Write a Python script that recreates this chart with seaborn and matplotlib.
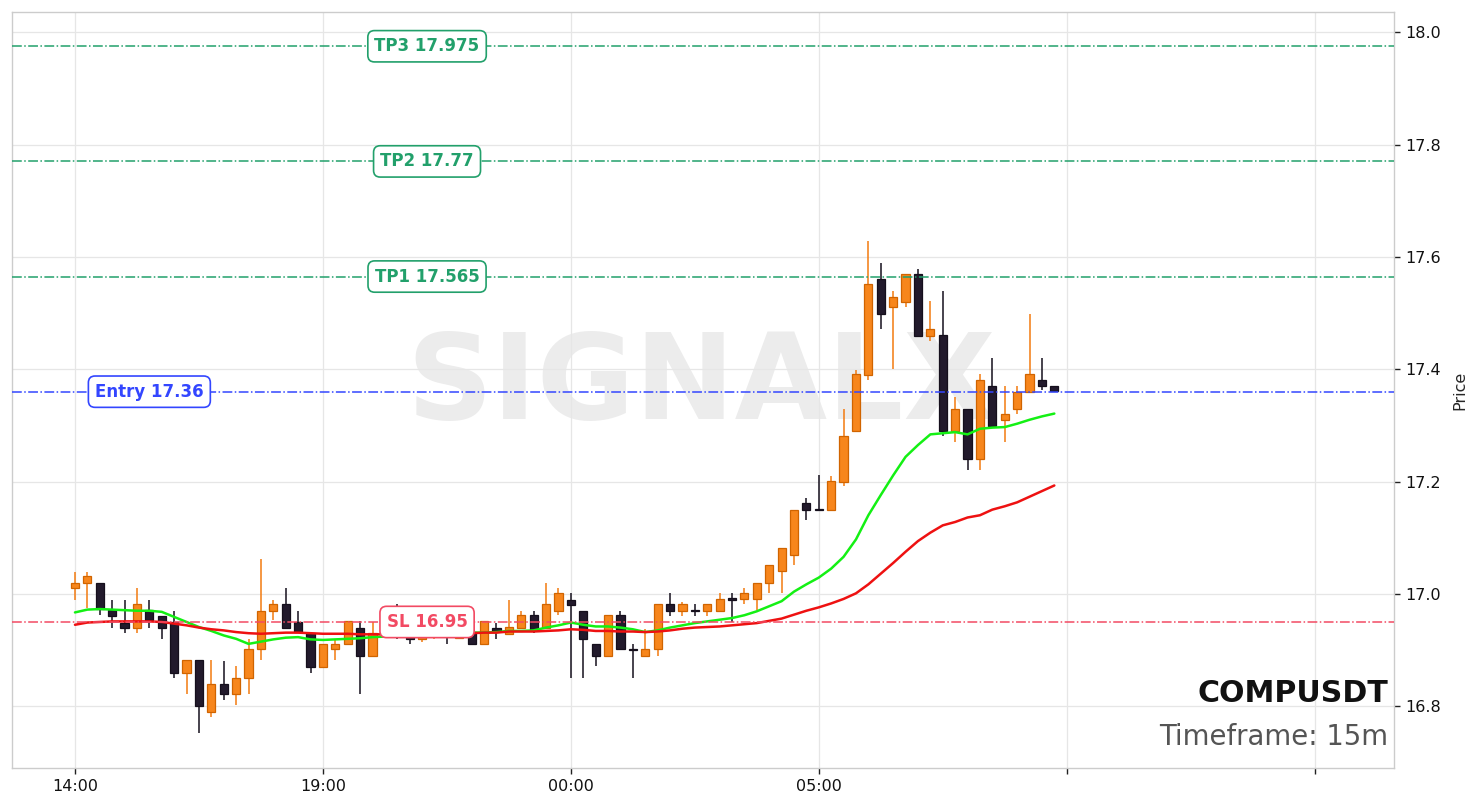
import numpy as np
import pandas as pd
import matplotlib
matplotlib.use("Agg")
import matplotlib.pyplot as plt
import seaborn as sns

# ---------------- data ----------------
opens = [17.011, 17.020, 17.020, 16.971, 16.948, 16.940, 16.971, 16.961, 16.950, 16.860,
         16.882, 16.790, 16.840, 16.821, 16.851, 16.901, 16.970, 16.982, 16.950, 16.931,
         16.870, 16.901, 16.910, 16.940, 16.890, 16.930, 16.935, 16.925, 16.920, 16.925,
         16.930, 16.921, 16.933, 16.910, 16.940, 16.929, 16.940, 16.962, 16.940, 16.970,
         16.990, 16.970, 16.910, 16.890, 16.962, 16.902, 16.890, 16.901, 16.982, 16.970,
         16.972, 16.970, 16.970, 16.992, 16.991, 16.991, 17.020, 17.040, 17.070, 17.161,
         17.151, 17.150, 17.199, 17.290, 17.389, 17.560, 17.510, 17.520, 17.570, 17.459,
         17.461, 17.290, 17.330, 17.240, 17.371, 17.310, 17.330, 17.360, 17.380, 17.371]
highs = [17.039, 17.039, 17.020, 16.990, 16.990, 17.011, 16.990, 16.961, 16.970, 16.882,
         16.882, 16.882, 16.881, 16.871, 16.920, 17.062, 16.990, 17.011, 16.970, 16.931,
         16.910, 16.920, 16.951, 16.951, 16.950, 16.940, 16.982, 16.930, 16.930, 16.935,
         16.935, 16.940, 16.965, 16.951, 16.949, 16.990, 16.970, 16.970, 17.020, 17.011,
         17.001, 16.970, 16.910, 16.962, 16.970, 16.910, 16.938, 16.982, 17.001, 16.985,
         16.982, 16.982, 17.001, 17.001, 17.011, 17.020, 17.051, 17.081, 17.150, 17.170,
         17.211, 17.210, 17.329, 17.399, 17.628, 17.589, 17.539, 17.570, 17.579, 17.521,
         17.539, 17.350, 17.330, 17.391, 17.420, 17.370, 17.370, 17.499, 17.420, 17.371]
lows = [16.990, 16.975, 16.962, 16.940, 16.931, 16.931, 16.940, 16.920, 16.851, 16.821,
        16.752, 16.781, 16.811, 16.802, 16.821, 16.882, 16.953, 16.940, 16.932, 16.860,
        16.870, 16.882, 16.910, 16.821, 16.890, 16.925, 16.920, 16.910, 16.915, 16.920,
        16.910, 16.920, 16.910, 16.910, 16.920, 16.929, 16.940, 16.931, 16.940, 16.962,
        16.851, 16.851, 16.871, 16.890, 16.901, 16.851, 16.890, 16.890, 16.961, 16.961,
        16.961, 16.961, 16.970, 16.950, 16.982, 16.971, 17.001, 17.001, 17.051, 17.131,
        17.150, 17.150, 17.192, 17.290, 17.380, 17.471, 17.400, 17.510, 17.459, 17.450,
        17.281, 17.271, 17.220, 17.220, 17.299, 17.270, 17.320, 17.360, 17.363, 17.361]
closes = [17.020, 17.031, 16.973, 16.961, 16.940, 16.982, 16.953, 16.940, 16.860, 16.882,
          16.801, 16.840, 16.821, 16.851, 16.901, 16.970, 16.982, 16.940, 16.932, 16.870,
          16.910, 16.910, 16.951, 16.890, 16.931, 16.935, 16.925, 16.920, 16.925, 16.930,
          16.925, 16.933, 16.910, 16.951, 16.934, 16.941, 16.962, 16.935, 16.982, 17.001,
          16.981, 16.920, 16.890, 16.962, 16.901, 16.900, 16.901, 16.982, 16.970, 16.982,
          16.970, 16.982, 16.991, 16.990, 17.001, 17.020, 17.051, 17.081, 17.150, 17.150,
          17.150, 17.201, 17.281, 17.391, 17.551, 17.499, 17.529, 17.570, 17.459, 17.471,
          17.290, 17.330, 17.240, 17.380, 17.299, 17.320, 17.360, 17.391, 17.370, 17.361]

ema_fast = [16.967, 16.972, 16.973, 16.972, 16.971, 16.970, 16.970, 16.968, 16.959, 16.950,
            16.941, 16.934, 16.926, 16.920, 16.911, 16.915, 16.919, 16.922, 16.923, 16.919,
            16.918, 16.919, 16.920, 16.921, 16.923, 16.924, 16.926, 16.926, 16.927, 16.928,
            16.929, 16.930, 16.931, 16.931, 16.932, 16.934, 16.934, 16.935, 16.940, 16.944,
            16.949, 16.945, 16.942, 16.942, 16.940, 16.937, 16.932, 16.935, 16.940, 16.944,
            16.948, 16.951, 16.954, 16.957, 16.962, 16.969, 16.978, 16.987, 17.004, 17.017,
            17.029, 17.045, 17.066, 17.097, 17.140, 17.176, 17.211, 17.244, 17.265, 17.284,
            17.286, 17.288, 17.284, 17.294, 17.296, 17.297, 17.303, 17.310, 17.316, 17.321]
ema_slow = [16.945, 16.949, 16.950, 16.951, 16.951, 16.951, 16.951, 16.950, 16.947, 16.944,
            16.940, 16.937, 16.935, 16.932, 16.930, 16.929, 16.930, 16.931, 16.931, 16.930,
            16.929, 16.929, 16.929, 16.928, 16.928, 16.928, 16.929, 16.929, 16.929, 16.930,
            16.930, 16.930, 16.930, 16.931, 16.931, 16.933, 16.933, 16.933, 16.934, 16.935,
            16.937, 16.936, 16.934, 16.934, 16.933, 16.933, 16.932, 16.933, 16.935, 16.938,
            16.940, 16.941, 16.942, 16.944, 16.946, 16.948, 16.952, 16.956, 16.963, 16.970,
            16.976, 16.983, 16.991, 17.001, 17.017, 17.036, 17.055, 17.075, 17.094, 17.109,
            17.122, 17.128, 17.136, 17.140, 17.150, 17.156, 17.163, 17.173, 17.183, 17.193]

xtick_pos = [0, 20, 40, 60, 80, 100]
xtick_labels = ["14:00", "19:00", "00:00", "05:00", "", ""]

level_names = ["TP3", "TP2", "TP1", "Entry", "SL"]
level_values = [17.975, 17.77, 17.565, 17.36, 16.95]
level_label_text = ["TP3 17.975", "TP2 17.77", "TP1 17.565", "Entry 17.36", "SL 16.95"]

symbol = "COMPUSDT"
timeframe = "Timeframe: 15m"
watermark = "SIGNALX"

# ---------------- style ----------------
sns.set_theme(style="whitegrid")
plt.rcParams["font.family"] = ["DejaVu Sans"]

fig = plt.figure(figsize=(14.79, 8.08), dpi=100)
ax = fig.add_axes([12/1479, 1 - 768/808, (1394 - 12)/1479, (768 - 12)/808])
ax.set_facecolor("white")

df = pd.DataFrame({"idx": np.arange(len(closes)), "open": opens, "high": highs,
                   "low": lows, "close": closes, "fast": ema_fast, "slow": ema_slow})
up = df["close"] >= df["open"]

UP_FILL, UP_EDGE = "#f7861c", "#d06400"
DN_FILL, DN_EDGE = "#221a2c", "#150f1c"

# wicks
ax.vlines(df["idx"][up], df["low"][up], df["high"][up], colors="#f27a10", linewidth=1.1, zorder=2)
ax.vlines(df["idx"][~up], df["low"][~up], df["high"][~up], colors=DN_EDGE, linewidth=1.1, zorder=2)
# bodies
body_h = (df["close"] - df["open"]).abs().clip(lower=0.0008)
body_b = df[["open", "close"]].min(axis=1)
ax.bar(df["idx"][up], body_h[up], bottom=body_b[up], width=0.66,
       color=UP_FILL, edgecolor=UP_EDGE, linewidth=0.9, zorder=2.5)
ax.bar(df["idx"][~up], body_h[~up], bottom=body_b[~up], width=0.66,
       color=DN_FILL, edgecolor=DN_EDGE, linewidth=0.9, zorder=2.5)

# moving averages
sns.lineplot(data=df, x="idx", y="fast", color="#14f014", linewidth=1.8, ax=ax, zorder=3)
sns.lineplot(data=df, x="idx", y="slow", color="#ee1111", linewidth=1.8, ax=ax, zorder=3)

# levels
level_colors = ["#22a06b", "#22a06b", "#22a06b", "#3346ff", "#f24a63"]
label_x = [28.4, 28.4, 28.4, 6.0, 28.4]
for v, c, t, lx in zip(level_values, level_colors, level_label_text, label_x):
    ax.axhline(v, color=c, linestyle="-.", linewidth=1.1, zorder=4)
    ax.text(lx, v, t, ha="center", va="center", color=c, fontsize=12, fontweight="bold",
            zorder=10,
            bbox=dict(boxstyle="round,pad=0.4", fc="white", ec=c, lw=1.2))

# watermark
ax.text(0.499, 0.505, watermark, transform=ax.transAxes, fontsize=86, fontweight="bold",
        color="#808080", alpha=0.15, ha="center", va="center", zorder=0.5)

# symbol texts
ax.text(0.9957, 0.099, symbol, transform=ax.transAxes, ha="right", va="center",
        fontsize=21.6, fontweight="bold", color="#111111", zorder=10)
ax.text(0.9957, 0.041, timeframe, transform=ax.transAxes, ha="right", va="center",
        fontsize=19.8, color="#555555", zorder=10)

# axes
ax.set_xlim(-5.08, 106.4)
ax.set_ylim(16.69, 18.036)
ax.set_xticks(xtick_pos)
ax.set_xticklabels(xtick_labels)
ax.set_yticks([16.8, 17.0, 17.2, 17.4, 17.6, 17.8, 18.0])
ax.set_yticklabels([f"{v:.1f}" for v in [16.8, 17.0, 17.2, 17.4, 17.6, 17.8, 18.0]])
ax.yaxis.tick_right()
ax.yaxis.set_label_position("right")
ax.set_ylabel("Price", fontsize=11.5, labelpad=8)
ax.set_xlabel("")
ax.tick_params(axis="both", which="major", direction="out", length=4, width=1,
               color="#222222", labelsize=11.5, labelcolor="#111111", pad=4)
ax.tick_params(axis="y", left=False, right=True)
ax.tick_params(axis="x", bottom=True)
ax.grid(True, color="#e6e6e6", linewidth=0.9)
for s in ax.spines.values():
    s.set_color("#cccccc")
    s.set_linewidth(1.0)
if ax.get_legend() is not None:
    ax.get_legend().remove()

fig.savefig("out.png", dpi=100, facecolor="white")
